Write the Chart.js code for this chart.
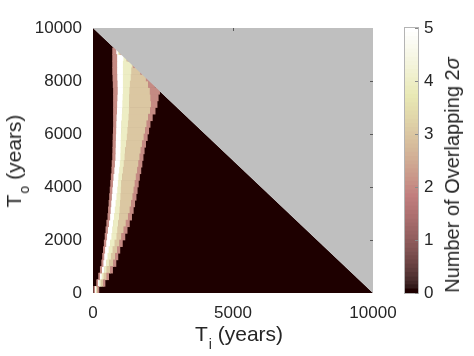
<!DOCTYPE html>
<html><head><meta charset="utf-8">
<script src="https://cdn.jsdelivr.net/npm/chart.js@4.4.1/dist/chart.umd.min.js"></script>
<style>
html,body{margin:0;padding:0;background:#fff;}
#wrap{position:relative;width:474px;height:356px;overflow:hidden;font-family:'Liberation Sans',Arial,Helvetica,sans-serif;color:#262626;}
canvas{position:absolute;left:0;top:0;}
.lbl{position:absolute;white-space:nowrap;font-size:21px;line-height:21px;}
.sb{font-size:14px;position:relative;top:8px;margin-left:1px;}
</style></head><body>
<div id="wrap">
<canvas id="main" width="474" height="356" style="width:474px;height:356px"></canvas>
<canvas id="cbar" width="474" height="356" style="width:474px;height:356px"></canvas>
<div class="lbl" style="left:239px;top:323px;transform:translateX(-50%)">T<span class="sb">i</span> (years)</div>
<div class="lbl" style="left:15px;top:161px;transform:translate(-50%,-50%) rotate(-90deg)">T<span class="sb">o</span> (years)</div>
<div class="lbl" style="left:452px;top:175px;font-size:20px;line-height:20px;transform:translate(-50%,-50%) rotate(-90deg)">Number of Overlapping 2<i>σ</i></div>
</div>
<script>
// ---- data ----
const xTickVals = [0, 5000, 10000];
const yTickVals = [0, 2000, 4000, 6000, 8000, 10000];
const cbarTickVals = [0, 1, 2, 3, 4, 5];
const diagTi = [0, 10000];
const diagTo = [10000, 0];
// rows of T_o (years), cell centres
const rowsTo = [125,375,625,875,1125,1375,1625,1875,2125,2375,2625,2875,3125,3375,3625,3875,4125,4375,4625,4875,5125,5375,5625,5875,6125,6375,6625,6875,7125,7375,7625,7875,8125,8375,8625,8875,9125];
// T_i boundaries of the overlap band in each row
const edgeLeft       = [30,130,200,260,310,340,370,400,430,460,490,530,550,570,590,610,630,650,670,680,700,705,710,715,725,730,730,730,730,730,730,720,710,700,700,700,700];
const edgeWhiteStart = [60,170,240,310,360,390,420,460,490,520,560,600,620,640,660,680,700,720,750,770,790,795,800,805,815,820,830,845,850,860,870,865,855,850,850,850,820];
const edgeWhiteEnd   = [110,240,320,410,480,530,570,620,670,700,730,760,790,820,850,880,900,920,950,970,990,995,1000,1005,1015,1020,1040,1055,1060,1070,1080,1080,1080,1080,1080,1100,900];
const edgeYellowEnd  = [140,290,390,490,580,650,710,780,850,880,910,940,960,975,990,1005,1020,1050,1080,1110,1140,1160,1190,1220,1240,1260,1280,1295,1300,1305,1310,1330,1360,1380,1400,1200,950];
const edgeTanEnd     = [170,370,490,620,730,800,870,950,1020,1100,1180,1260,1320,1370,1420,1460,1500,1540,1590,1630,1670,1710,1760,1820,1870,1920,1980,2050,2080,2060,2040,1980,1900,1700,1450,1250,1000];
const edgeRight      = [210,430,560,700,820,890,960,1050,1140,1220,1300,1380,1440,1490,1540,1580,1620,1660,1710,1750,1790,1830,1880,1940,1990,2040,2120,2220,2290,2330,2380,2200,2000,1750,1500,1300,1050];
// level of each band part (number of overlapping 2 sigma)
const levelLeft = 2, levelWhite = 5, levelYellow = 4, levelTan = 3, levelRight = 2, levelOutside = 0;

// ---- MATLAB "pink" colormap (64 entries) ----
const CMAP = (() => {
  const m = 64, n = 24, out = [];
  for (let k = 0; k < m; k++) {
    const gr = k / (m - 1);
    const hr = k < n ? (k + 1) / n : 1;
    const hg = k < n ? 0 : (k < 2 * n ? (k - n + 1) / n : 1);
    const hb = k < 2 * n ? 0 : (k - 2 * n + 1) / (m - 2 * n);
    const f = v => Math.round(255 * Math.sqrt((2 * gr + v) / 3));
    out.push(`rgb(${f(hr)},${f(hg)},${f(hb)})`);
  }
  return out;
})();
const colorFor = v => CMAP[Math.round(v / 5 * 63)];
const NAN_GRAY = 'rgb(191,191,191)';
const FONT = "'Liberation Sans', Arial, Helvetica, sans-serif";
const TXT = '#262626';

// ---- build band segments ----
const segs = {};
function addSeg(level, y, a, b) { (segs[level] = segs[level] || []).push({ y: y, x: [a, b] }); }
rowsTo.forEach((y, i) => {
  addSeg(levelLeft, y, edgeLeft[i], edgeWhiteStart[i]);
  addSeg(levelWhite, y, edgeWhiteStart[i], edgeWhiteEnd[i]);
  addSeg(levelYellow, y, edgeWhiteEnd[i], edgeYellowEnd[i]);
  addSeg(levelTan, y, edgeYellowEnd[i], edgeTanEnd[i]);
  addSeg(levelRight, y, edgeTanEnd[i], edgeRight[i]);
});
const diagPts = diagTi.map((x, i) => ({ x: x, y: diagTo[i] }));

const datasets = [
  { type: 'line', indexAxis: 'x', data: diagPts, fill: 'start', backgroundColor: colorFor(levelOutside),
    borderColor: 'rgba(0,0,0,0)', borderWidth: 0, pointRadius: 0, order: 3 },
  { type: 'line', indexAxis: 'x', data: diagPts, fill: 'end', backgroundColor: NAN_GRAY,
    borderColor: 'rgba(0,0,0,0)', borderWidth: 0, pointRadius: 0, order: 1 }
];
Object.keys(segs).forEach(lv => {
  datasets.push({ type: 'bar', indexAxis: 'y', data: segs[lv], backgroundColor: colorFor(+lv),
    grouped: false, barPercentage: 1, categoryPercentage: 1, borderWidth: 0, borderSkipped: false, order: 2 });
});

// inward MATLAB-style tick marks on top and right edges
const boxTicks = {
  id: 'boxTicks',
  afterDraw(chart) {
    const a = chart.chartArea, ctx = chart.ctx, xs = chart.scales.x, ys = chart.scales.y;
    ctx.save();
    ctx.strokeStyle = '#5a5a5a'; ctx.lineWidth = 1;
    xTickVals.slice(1, -1).forEach(v => {
      const px = Math.round(xs.getPixelForValue(v)) + 0.5;
      ctx.beginPath(); ctx.moveTo(px, a.top); ctx.lineTo(px, a.top + 3); ctx.stroke();
    });
    yTickVals.slice(1, -1).forEach(v => {
      const py = Math.round(ys.getPixelForValue(v)) + 0.5;
      ctx.beginPath(); ctx.moveTo(a.right, py); ctx.lineTo(a.right - 3, py); ctx.stroke();
    });
    ctx.restore();
  }
};

new Chart(document.getElementById('main'), {
  type: 'bar',
  data: { datasets: datasets },
  options: {
    responsive: false, animation: false, events: [],
    layout: { padding: { left: 0, right: 101, top: 28, bottom: 0 } },
    plugins: { legend: { display: false }, tooltip: { enabled: false } },
    scales: {
      x: { type: 'linear', min: 0, max: 10000, offset: false,
        afterBuildTicks: s => { s.ticks = xTickVals.map(v => ({ value: v })); },
        afterFit: s => { s.height = 63; },
        grid: { display: false, drawTicks: false }, border: { display: false },
        ticks: { padding: 10, font: { family: FONT, size: 17 }, color: TXT, maxRotation: 0, callback: v => String(v) } },
      y: { type: 'linear', min: 0, max: 10000, offset: false,
        afterBuildTicks: s => { s.ticks = yTickVals.map(v => ({ value: v })); },
        afterFit: s => { s.width = 93; },
        grid: { display: false, drawTicks: false }, border: { display: false },
        ticks: { padding: 11, font: { family: FONT, size: 17 }, color: TXT, callback: v => String(v) } }
    }
  },
  plugins: [boxTicks]
});

// ---- colour bar ----
const cbDatasets = CMAP.map((c, k) => ({ data: [[k * 5 / 64, (k + 1) * 5 / 64]], backgroundColor: c,
  grouped: false, barPercentage: 1, categoryPercentage: 1, borderWidth: 0, borderSkipped: false }));
const cbFrame = {
  id: 'cbFrame',
  afterDraw(chart) {
    const a = chart.chartArea, ctx = chart.ctx, ys = chart.scales.y;
    ctx.save();
    ctx.strokeStyle = '#b4b4b4'; ctx.lineWidth = 1;
    ctx.strokeRect(a.left - 0.5, a.top - 0.5, a.right - a.left + 1, a.bottom - a.top + 1);
    ctx.strokeStyle = '#8a8a8a';
    cbarTickVals.forEach(v => {
      const py = Math.round(ys.getPixelForValue(v)) + 0.5;
      ctx.beginPath(); ctx.moveTo(a.right - 3, py); ctx.lineTo(a.right, py); ctx.stroke();
    });
    ctx.restore();
  }
};
new Chart(document.getElementById('cbar'), {
  type: 'bar',
  data: { labels: [''], datasets: cbDatasets },
  options: {
    responsive: false, animation: false, events: [],
    layout: { padding: { left: 405, right: 0, top: 28, bottom: 63 } },
    plugins: { legend: { display: false }, tooltip: { enabled: false } },
    scales: {
      x: { display: false },
      y: { position: 'right', type: 'linear', min: 0, max: 5,
        afterBuildTicks: s => { s.ticks = cbarTickVals.map(v => ({ value: v })); },
        afterFit: s => { s.width = 56; },
        grid: { display: false, drawTicks: false }, border: { display: false },
        ticks: { padding: 6, font: { family: FONT, size: 17 }, color: TXT, callback: v => String(v) } }
    }
  },
  plugins: [cbFrame]
});
</script>
</body></html>
